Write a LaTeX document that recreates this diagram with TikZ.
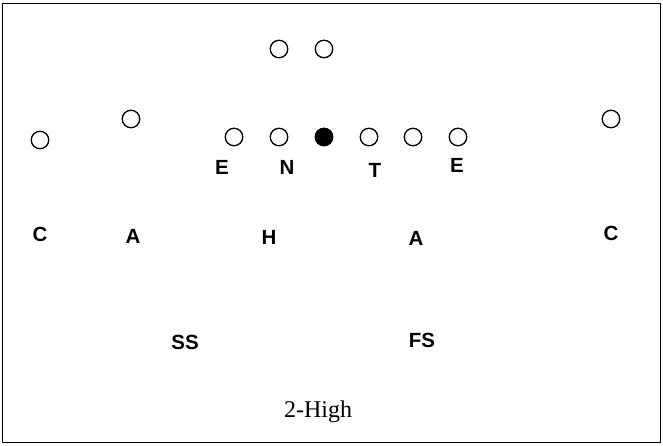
\documentclass[tikz,border=0pt]{standalone}
\usepackage{fontspec}
\setmainfont{Liberation Serif}
\setsansfont{Liberation Sans}
\begin{document}
\begin{tikzpicture}[x=1pt,y=-1pt,
  player/.style={circle,draw,line width=1.3pt,minimum size=17.5pt,inner sep=0pt},
  ball/.style={player,fill=black},
  lbl/.style={font=\sffamily\bfseries\fontsize{20.5}{20.5}\selectfont,inner sep=0pt},
  titletext/.style={font=\fontsize{24}{24}\selectfont,inner sep=0pt}]
\useasboundingbox (0,0) rectangle (663,445);
\draw[line width=1pt] (2.5,3.5) rectangle (660,442) ;
\node[player] (b1) at (279,49) {};
\node[player] (b2) at (324,49) {};
\node[player] (l1) at (234,137) {};
\node[player] (l2) at (279,137) {};
\node[ball]   (l3) at (324,137) {};
\node[player] (l4) at (369,137) {};
\node[player] (l5) at (413,137) {};
\node[player] (l6) at (458,137) {};
\node[player] (w1) at (40,140) {};
\node[player] (w2) at (131,119) {};
\node[player] (w3) at (611,119) {};
\node[lbl] (e1) at (222,167) {E};
\node[lbl] (n) at (287,167) {N};
\node[lbl] (t) at (375,170) {T};
\node[lbl] (e2) at (457,165) {E};
\node[lbl] (c1) at (40,234) {C};
\node[lbl] (a1) at (133,236) {A};
\node[lbl] (h) at (269,237) {H};
\node[lbl] (a2) at (416,238) {A};
\node[lbl] (c2) at (611,233) {C};
\node[lbl] (ss) at (185,342) {SS};
\node[lbl] (fs) at (422,340) {FS};
\node[titletext] (title) at (318,411.5) {2-High};
\end{tikzpicture}
\end{document}
